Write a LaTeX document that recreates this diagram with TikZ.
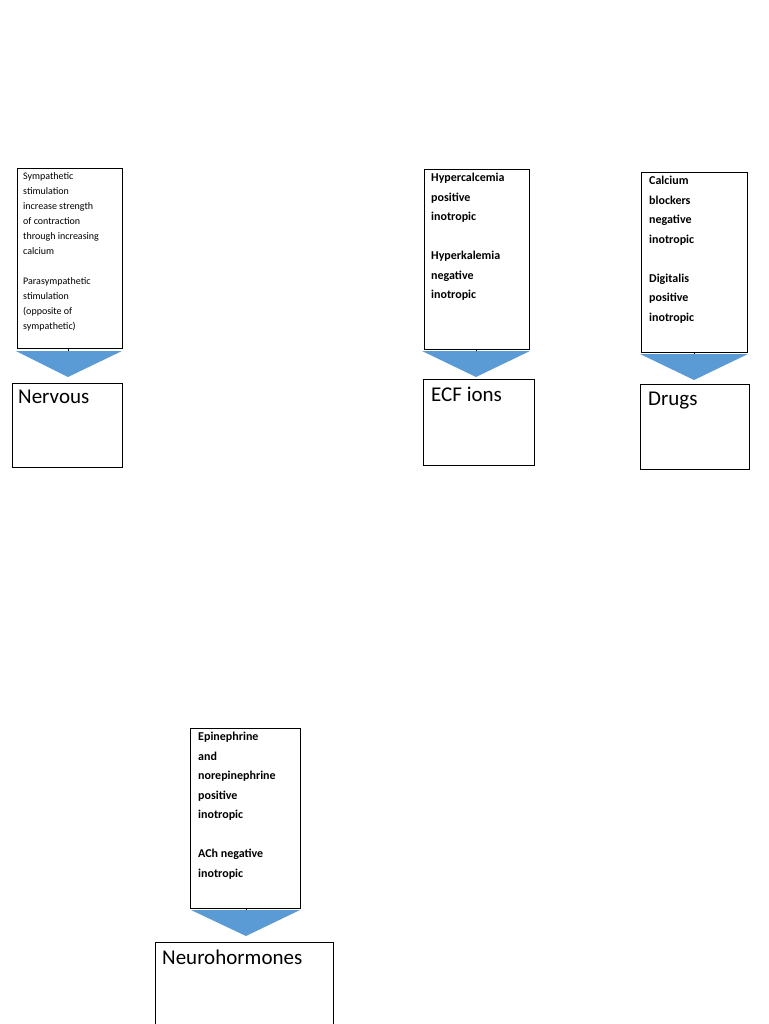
\documentclass[tikz,border=0pt]{standalone}
\usepackage{fontspec}
\setmainfont{Carlito}
\tikzset{
 tbox/.style={draw,line width=0.8pt,anchor=north west,inner sep=0pt},
 tri/.style={fill=blue!45!cyan!60!black!70,draw=none},
 small/.style={align=left,anchor=north west,inner sep=0pt,font=\fontsize{10}{15}\selectfont},
 med/.style={align=left,anchor=north west,inner sep=0pt,font=\bfseries\fontsize{12}{19.5}\selectfont},
 big/.style={anchor=north west,inner sep=0pt,font=\fontsize{21}{24}\selectfont},
 conn/.style={draw,line width=0.4pt}
}
\definecolor{tricol}{RGB}{91,155,213}
\begin{document}
\begin{tikzpicture}[x=1pt,y=-1pt]
\useasboundingbox (0,0) rectangle (768,1024);
% Nervous
\draw[line width=0.8pt] (17,168) rectangle (122,348);
\node[small] (nt) at (23,172) {Sympathetic\\stimulation\\increase strength\\of contraction\\through increasing\\calcium\\[15pt]Parasympathetic\\stimulation\\(opposite of\\sympathetic)};
\fill[tricol] (16,351) -- (122,351) -- (68,377) -- cycle;
\coordinate (na) at (68,348); \coordinate (nb) at (68,351);
\draw[conn] (na) -- (nb);
\draw[line width=0.8pt] (12,383) rectangle (122,467);
\node[big] (n) at (18,390) {Nervous};
% ECF
\draw[line width=0.8pt] (424,169) rectangle (529,349);
\node[med] (et) at (431,173) {Hypercalcemia\\positive\\inotropic\\[19.5pt]Hyperkalemia\\negative\\inotropic};
\fill[tricol] (422,351) -- (530,351) -- (476,377) -- cycle;
\coordinate (ea) at (476,349); \coordinate (eb) at (476,351);
\draw[conn] (ea) -- (eb);
\draw[line width=0.8pt] (423,379) rectangle (534,465);
\node[big] (e) at (431,387) {ECF ions};
% Drugs
\draw[line width=0.8pt] (641,172) rectangle (747,352);
\node[med] (dt) at (649,176) {Calcium\\blockers\\negative\\inotropic\\[19.5pt]Digitalis\\positive\\inotropic};
\fill[tricol] (640,354) -- (748,354) -- (694,380) -- cycle;
\coordinate (da) at (694,352); \coordinate (db) at (694,354);
\draw[conn] (da) -- (db);
\draw[line width=0.8pt] (640,384) rectangle (749,469);
\node[big] (d) at (648,392) {Drugs};
% Neurohormones
\draw[line width=0.8pt] (190,728) rectangle (300,908);
\node[med] (ht) at (198,732) {Epinephrine\\and\\norepinephrine\\positive\\inotropic\\[19.5pt]ACh negative\\inotropic};
\fill[tricol] (191,910) -- (300,910) -- (246,936) -- cycle;
\coordinate (ha) at (246,908); \coordinate (hb) at (246,910);
\draw[conn] (ha) -- (hb);
\draw[line width=0.8pt] (155,942) rectangle (333,1030);
\node[big] (h) at (162,950) {Neurohormones};
\end{tikzpicture}
\end{document}
